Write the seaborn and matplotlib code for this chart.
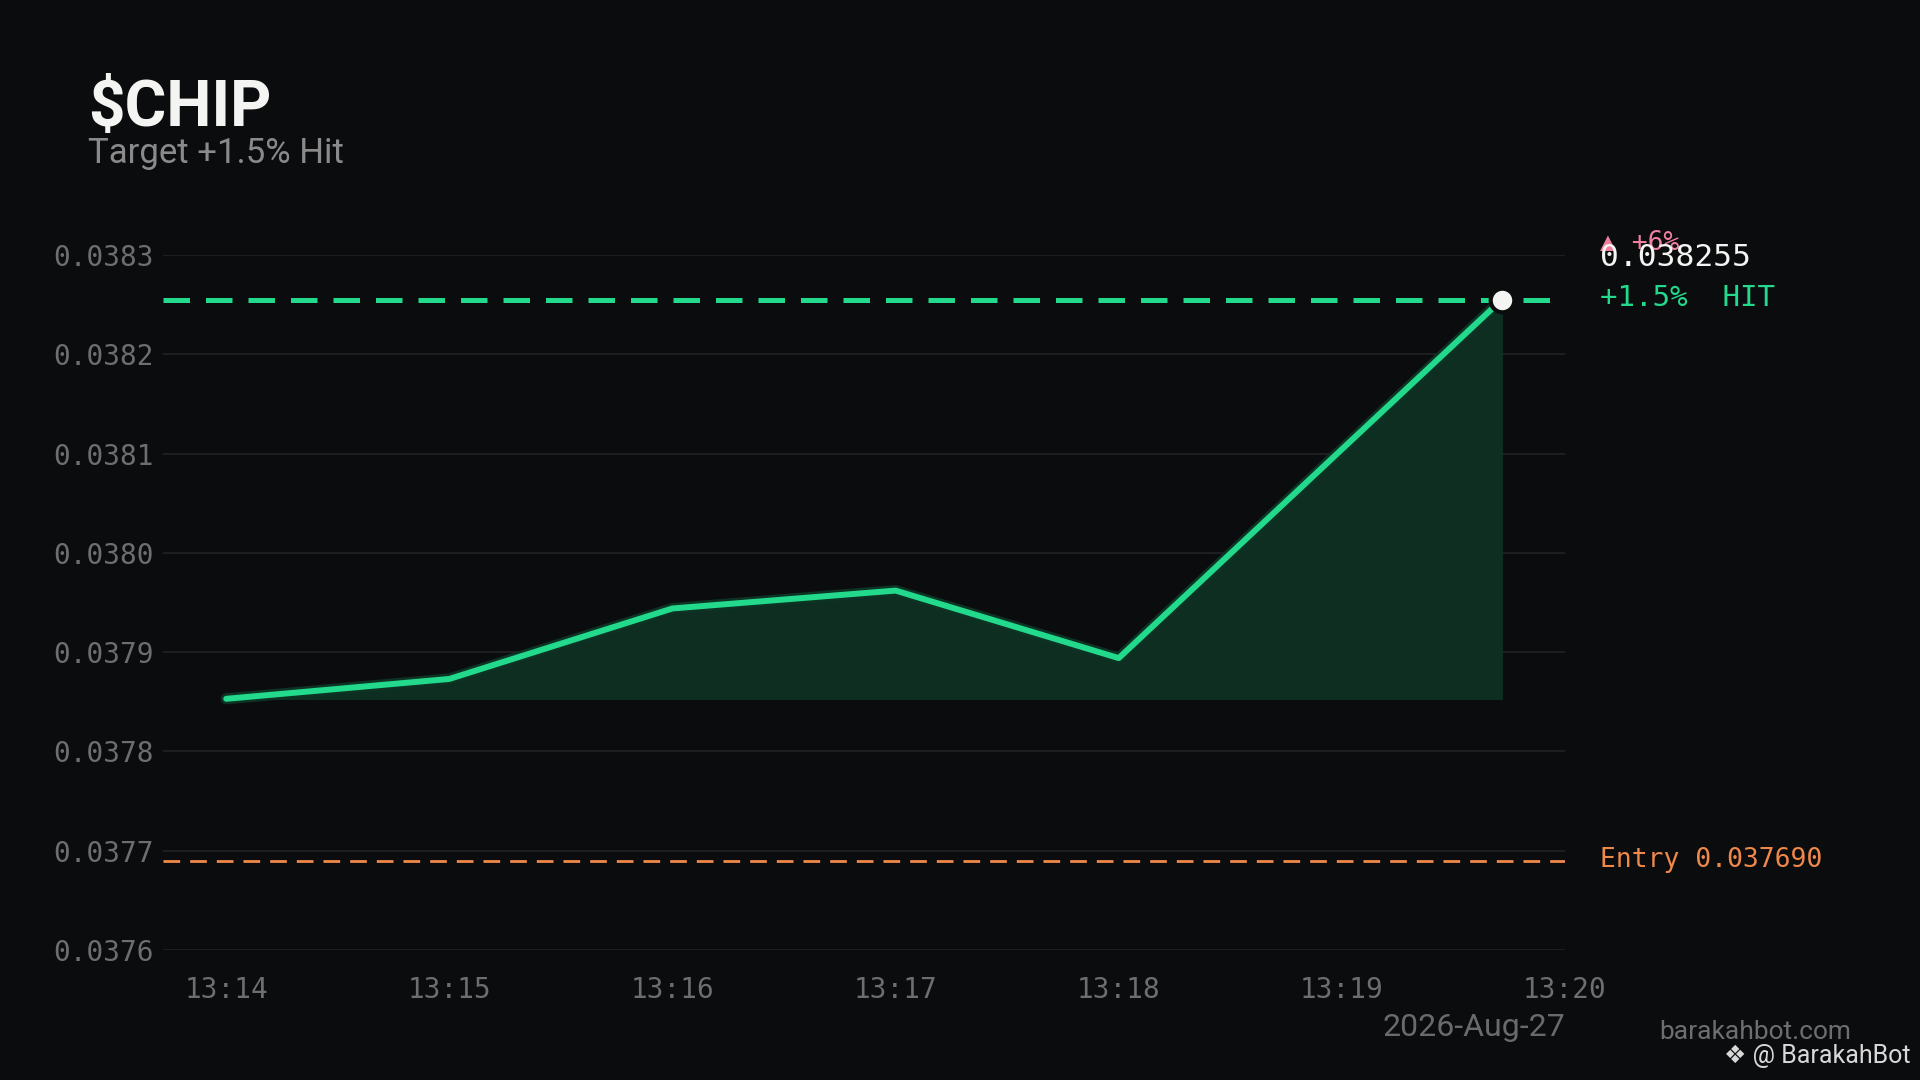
import pandas as pd
import matplotlib
matplotlib.use("Agg")
import matplotlib.pyplot as plt
import matplotlib.dates as mdates
import matplotlib.patheffects as pe
import seaborn as sns

# price ticks
times = ["2026-08-27 13:14:00", "2026-08-27 13:15:00", "2026-08-27 13:16:00",
         "2026-08-27 13:17:00", "2026-08-27 13:18:00", "2026-08-27 13:19:43"]
prices = [0.037853, 0.037873, 0.037944, 0.037962, 0.037894, 0.038255]
entry_price = 0.037690
target_price = 0.038255
y_ticks = [0.0376, 0.0377, 0.0378, 0.0379, 0.0380, 0.0381, 0.0382, 0.0383]

BG = "#0b0c0e"
GREEN = "#22d98c"
ORANGE = "#f0884a"
PINK = "#f080a0"
MONO = "DejaVu Sans Mono"

df = pd.DataFrame({"time": pd.to_datetime(times), "price": prices})

sns.set_style("dark")
plt.rcParams["font.family"] = ["Roboto", "DejaVu Sans"]

fig = plt.figure(figsize=(19.2, 10.8), dpi=100, facecolor=BG)
ax = fig.add_axes([163 / 1920, 1 - 950 / 1080, (1565 - 163) / 1920, 695 / 1080])
ax.set_facecolor(BG)

# fill under the line down to the lowest price
ax.fill_between(df["time"], df["price"], df["price"].min(), color="#0e2e22", zorder=1)

sns.lineplot(data=df, x="time", y="price", ax=ax, color=GREEN, linewidth=4.3, zorder=4,
             path_effects=[pe.Stroke(linewidth=8, foreground="#0c3324"), pe.Normal()])

ax.axhline(target_price, color=GREEN, linewidth=3.6, dashes=(5.3, 3.2), zorder=3)
ax.axhline(entry_price, color=ORANGE, linewidth=2.0, dashes=(6, 3.6), zorder=3)

ax.plot(df["time"].iloc[-1], df["price"].iloc[-1], "o", color="#f4f4f2", markersize=17,
        markeredgecolor=BG, markeredgewidth=3, zorder=6)

ax.set_ylim(0.03760, 0.03830)
ax.set_xlim(pd.Timestamp("2026-08-27 13:13:43"), pd.Timestamp("2026-08-27 13:20:00"))
ax.set_yticks(y_ticks)
ax.yaxis.set_major_formatter(matplotlib.ticker.FuncFormatter(lambda v, p: f"{v:.4f}"))
ax.xaxis.set_major_locator(mdates.MinuteLocator())
ax.xaxis.set_major_formatter(mdates.DateFormatter("%H:%M"))

ax.grid(axis="y", color="#1c1e22", linewidth=1.5)
ax.grid(axis="x", visible=False)
for s in ax.spines.values():
    s.set_visible(False)
ax.tick_params(length=0, colors="#6e6e6e", labelsize=20, pad=7)
ax.tick_params(axis="x", pad=19)
for lab in ax.get_xticklabels() + ax.get_yticklabels():
    lab.set_family(MONO)
ax.set_xlabel("")
ax.set_ylabel("")

# header
fig.text(88 / 1920, 1 - 126 / 1080, "$CHIP", color="#f4f4f2", fontsize=46,
         fontweight="bold", va="baseline")
fig.text(88 / 1920, 1 - 163 / 1080, "Target +1.5% Hit", color="#8a8a8a", fontsize=25,
         va="baseline")

# right side labels (the reference overlaps the first two)
lx = 1600 / 1920
fig.text(lx, 1 - 242 / 1080, "▲ +6%", color=PINK, fontsize=19, family=MONO, va="center")
fig.text(lx, 1 - 257 / 1080, "0.038255", color="#f4f4f2", fontsize=22.5, family=MONO, va="center")
fig.text(lx, 1 - 298 / 1080, "+1.5%  HIT", color=GREEN, fontsize=21, family=MONO, va="center")
fig.text(lx, 1 - 860 / 1080, "Entry 0.037690", color=ORANGE, fontsize=19, family=MONO, va="center")

# footer
fig.text(1565 / 1920, 1 - 1027 / 1080, "2026-Aug-27", color="#6a6a6a", fontsize=23,
         ha="right", va="center")
fig.text(1755 / 1920, 1 - 1032 / 1080, "barakahbot.com", color="#6e6e6e", fontsize=19,
         ha="center", va="center")
fig.text(1910 / 1920, 1 - 1056 / 1080, "❖ @ BarakahBot", color="#d8d8d8", fontsize=18,
         ha="right", va="center", family=["Roboto", "DejaVu Sans"])

fig.savefig("out.png", dpi=100, facecolor=BG)
